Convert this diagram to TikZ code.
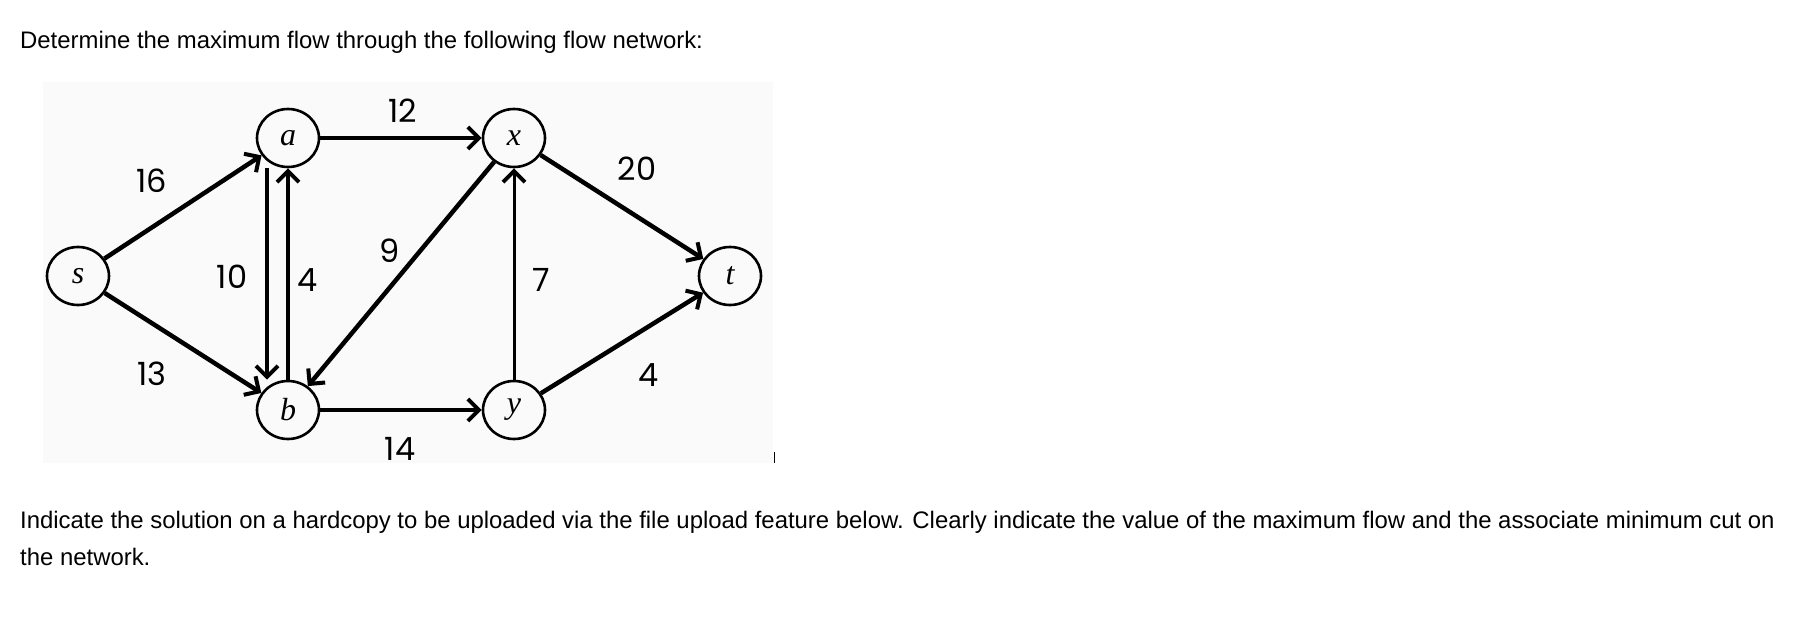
\documentclass[tikz,border=0pt]{standalone}
\usepackage{fontspec}
\setmainfont{Liberation Sans}
\newfontfamily\gothic{Poppins}
\newfontfamily\serifit{Liberation Serif}
\usetikzlibrary{arrows.meta,shapes.geometric}
\begin{document}
\begin{tikzpicture}[x=1pt,y=-1pt,
  vtx/.style={draw,line width=2.6pt,ellipse,minimum width=62pt,minimum height=58pt,inner sep=0pt,font=\fontsize{32}{32}\selectfont\serifit\itshape},
  edge/.style={line width=4.5pt,-{Straight Barb[length=11pt,width=22pt,line width=4pt]}},
  thin edge/.style={line width=3pt,-{Straight Barb[length=11pt,width=22pt,line width=4pt]}},
  lbl/.style={font=\fontsize{32}{32}\selectfont\gothic},
  txt/.style={anchor=base west,inner sep=0pt,font=\fontsize{23.9}{28}\selectfont}]
\useasboundingbox (0,0) rectangle (1818,624);
\fill[white] (0,0) rectangle (1818,624);
\fill[black!2] (43,82) rectangle (773,463);
\node[txt] (q) at (20,48) {Determine the maximum flow through the following flow network:};
\node[txt] (r1) at (20,528) {Indicate the solution on a hardcopy to be uploaded via the file upload feature below. Clearly indicate the value of the maximum flow and the associate minimum cut on};
\node[txt] (r2) at (20,565) {the network.};
\node[vtx] (s) at (78,276) {s};
\node[vtx] (a) at (288,138) {a};
\node[vtx] (x) at (514,138) {x};
\node[vtx] (t) at (730,276) {t};
\node[vtx] (b) at (288,410) {b};
\node[vtx] (y) at (514,410) {y};
\draw[edge] (s) -- (a);
\draw[edge] (s) -- (b);
\draw[edge] (a) -- (x);
\draw[edge] (b) -- (y);
\draw[edge] (x) -- (t);
\draw[edge] (y) -- (t);
\draw[edge] (x) -- (b);
\draw[thin edge] (y) -- (x);
\draw[edge] ([xshift=-21pt]a.south) -- ([xshift=-21pt]b.north);
\draw[edge] (b.north) -- (a.south);
\node[lbl] (l1) at (403,111) {12};
\node[lbl] (l2) at (152,181) {16};
\node[lbl] (l3) at (637,169) {20};
\node[lbl] (l4) at (232,277) {10};
\node[lbl] (l5) at (308,280) {4};
\node[lbl] (l6) at (390,251) {9};
\node[lbl] (l7) at (541,280) {7};
\node[lbl] (l8) at (152,374) {13};
\node[lbl] (l9) at (649,375) {4};
\node[lbl] (l10) at (400,449) {14};
\draw[line width=1pt] (774,452) -- (774,463);
\end{tikzpicture}
\end{document}
